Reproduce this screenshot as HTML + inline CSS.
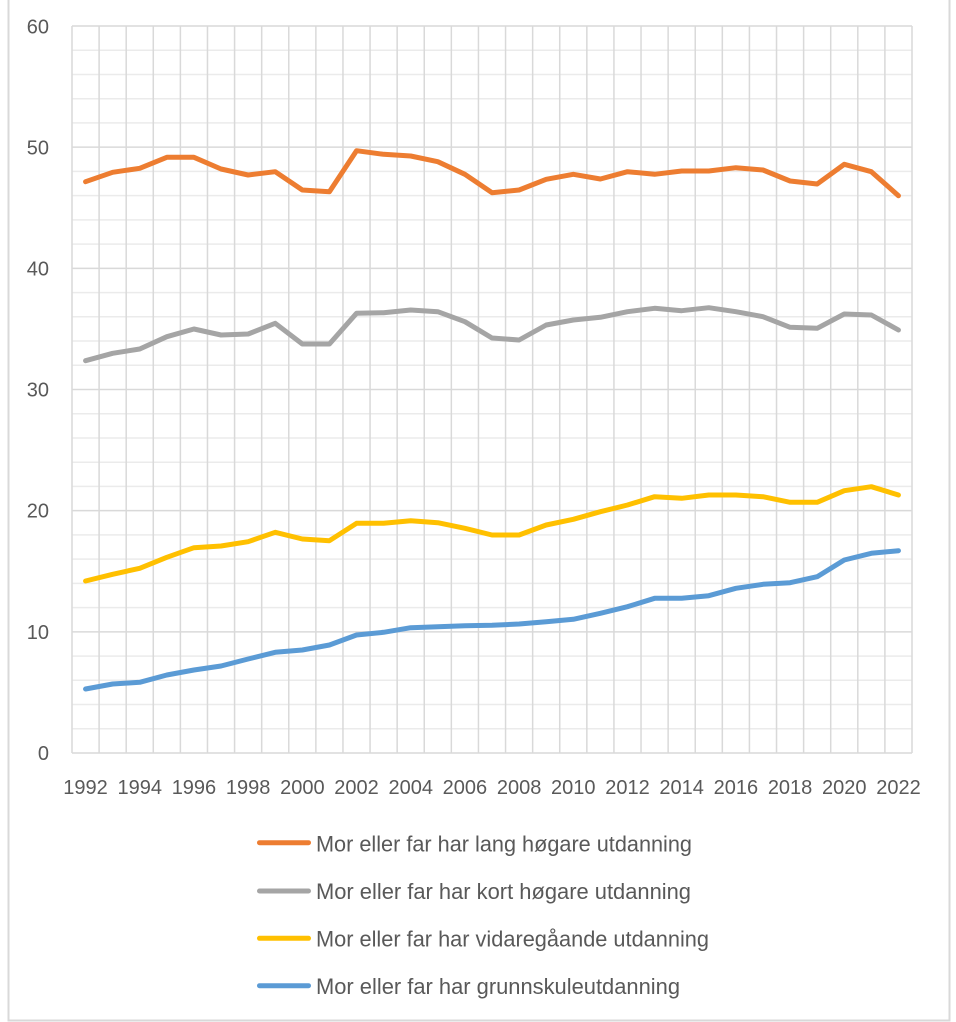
<!DOCTYPE html>
<html><head><meta charset="utf-8"><style>
html,body{margin:0;padding:0;background:#fff;}
svg{display:block;}
text{font-family:"Liberation Sans",Arial,sans-serif;fill:#595959;}
</style></head><body>
<svg width="956" height="1022" viewBox="0 0 956 1022" xmlns="http://www.w3.org/2000/svg">
<rect x="0" y="0" width="956" height="1022" fill="#fff"/>
<!-- frame -->
<path d="M8.5 0 V1020.5 H949.5 V0" fill="none" stroke="#d9d9d9" stroke-width="2"/>
<!-- minor horizontal grid -->
<path stroke="#ebebeb" stroke-width="1.5" fill="none" d="M72 50.23H912M72 74.47H912M72 98.7H912M72 122.93H912M72 171.4H912M72 195.63H912M72 219.87H912M72 244.1H912M72 292.57H912M72 316.8H912M72 341.03H912M72 365.27H912M72 413.73H912M72 437.97H912M72 462.2H912M72 486.43H912M72 534.9H912M72 559.13H912M72 583.37H912M72 607.6H912M72 656.07H912M72 680.3H912M72 704.53H912M72 728.77H912"/>
<!-- vertical grid -->
<path stroke="#d9d9d9" stroke-width="1.5" fill="none" d="M72 26V753M99.1 26V753M126.19 26V753M153.29 26V753M180.39 26V753M207.48 26V753M234.58 26V753M261.68 26V753M288.77 26V753M315.87 26V753M342.97 26V753M370.06 26V753M397.16 26V753M424.26 26V753M451.35 26V753M478.45 26V753M505.55 26V753M532.65 26V753M559.74 26V753M586.84 26V753M613.94 26V753M641.03 26V753M668.13 26V753M695.23 26V753M722.32 26V753M749.42 26V753M776.52 26V753M803.61 26V753M830.71 26V753M857.81 26V753M884.9 26V753M912 26V753"/>
<!-- major horizontal grid -->
<path stroke="#d9d9d9" stroke-width="1.5" fill="none" d="M72 26H912M72 147.17H912M72 268.33H912M72 389.5H912M72 510.67H912M72 631.83H912M72 753H912"/>
<!-- y labels -->
<g font-size="20" text-anchor="end">
<text x="49" y="33.5">60</text>
<text x="49" y="154.5">50</text>
<text x="49" y="275.5">40</text>
<text x="49" y="396.5">30</text>
<text x="49" y="517.5">20</text>
<text x="49" y="639">10</text>
<text x="49" y="760">0</text>
</g>
<!-- x labels -->
<g font-size="20" text-anchor="middle">
<text x="85.55" y="794">1992</text>
<text x="139.74" y="794">1994</text>
<text x="193.94" y="794">1996</text>
<text x="248.13" y="794">1998</text>
<text x="302.33" y="794">2000</text>
<text x="356.52" y="794">2002</text>
<text x="410.71" y="794">2004</text>
<text x="464.91" y="794">2006</text>
<text x="519.1" y="794">2008</text>
<text x="573.3" y="794">2010</text>
<text x="627.49" y="794">2012</text>
<text x="681.68" y="794">2014</text>
<text x="735.88" y="794">2016</text>
<text x="790.07" y="794">2018</text>
<text x="844.27" y="794">2020</text>
<text x="898.46" y="794">2022</text>
</g>
<!-- series -->
<g fill="none" stroke-width="5" stroke-linejoin="round" stroke-linecap="round">
<polyline stroke="#ED7D31" points="85.55,181.7 112.65,172.3 139.74,168.3 166.84,157.3 193.94,157.3 221.04,169 248.13,175 275.23,171.7 302.33,190 329.42,191.7 356.52,150.7 383.62,154.3 410.71,156 437.81,161.7 464.91,174.3 492,192.7 519.1,190 546.2,179.3 573.3,174.3 600.39,179 627.49,171.7 654.59,174.3 681.68,171 708.78,171 735.88,167.7 762.98,170 790.07,181 817.17,184 844.27,164.3 871.36,171.7 898.46,195.7"/>
<polyline stroke="#A5A5A5" points="85.55,360.7 112.65,353.3 139.74,349 166.84,336.7 193.94,329 221.04,335 248.13,334 275.23,323.3 302.33,344 329.42,344 356.52,313.3 383.62,312.7 410.71,310 437.81,311.7 464.91,321.7 492,338 519.1,340 546.2,325 573.3,320 600.39,317.3 627.49,311.7 654.59,308.3 681.68,310.7 708.78,307.7 735.88,311.7 762.98,316.7 790.07,327.3 817.17,328.3 844.27,314 871.36,315 898.46,330"/>
<polyline stroke="#FFC000" points="85.55,581 112.65,574.3 139.74,568.3 166.84,557.3 193.94,547.7 221.04,546 248.13,541.7 275.23,532.3 302.33,539 329.42,540.7 356.52,523.3 383.62,523.3 410.71,520.7 437.81,522.7 464.91,528.3 492,535 519.1,535 546.2,525 573.3,519.3 600.39,511.7 627.49,505 654.59,496.7 681.68,498.3 708.78,495 735.88,495 762.98,496.7 790.07,502.3 817.17,502.3 844.27,490.7 871.36,486.7 898.46,495"/>
<polyline stroke="#5B9BD5" points="85.55,689 112.65,684 139.74,682.3 166.84,675 193.94,670 221.04,666 248.13,659 275.23,652.3 302.33,650 329.42,645 356.52,635 383.62,632.3 410.71,627.7 437.81,626.7 464.91,625.7 492,625.3 519.1,624 546.2,621.7 573.3,619.3 600.39,613.3 627.49,606.7 654.59,598.3 681.68,598.3 708.78,595.7 735.88,588.3 762.98,584.3 790.07,582.7 817.17,576.7 844.27,560 871.36,553.3 898.46,550.7"/>
</g>
<!-- legend -->
<g stroke-width="5" stroke-linecap="round">
<line x1="259.5" y1="842.7" x2="308.5" y2="842.7" stroke="#ED7D31"/>
<line x1="259.5" y1="891" x2="308.5" y2="891" stroke="#A5A5A5"/>
<line x1="259.5" y1="938.3" x2="308.5" y2="938.3" stroke="#FFC000"/>
<line x1="259.5" y1="985.7" x2="308.5" y2="985.7" stroke="#5B9BD5"/>
</g>
<g font-size="22">
<text x="316" y="851.5" textLength="376" lengthAdjust="spacingAndGlyphs">Mor eller far har lang høgare utdanning</text>
<text x="316" y="899" textLength="375" lengthAdjust="spacingAndGlyphs">Mor eller far har kort høgare utdanning</text>
<text x="316" y="946.5" textLength="393" lengthAdjust="spacingAndGlyphs">Mor eller far har vidaregåande utdanning</text>
<text x="316" y="994" textLength="364" lengthAdjust="spacingAndGlyphs">Mor eller far har grunnskuleutdanning</text>
</g>
</svg>
</body></html>
